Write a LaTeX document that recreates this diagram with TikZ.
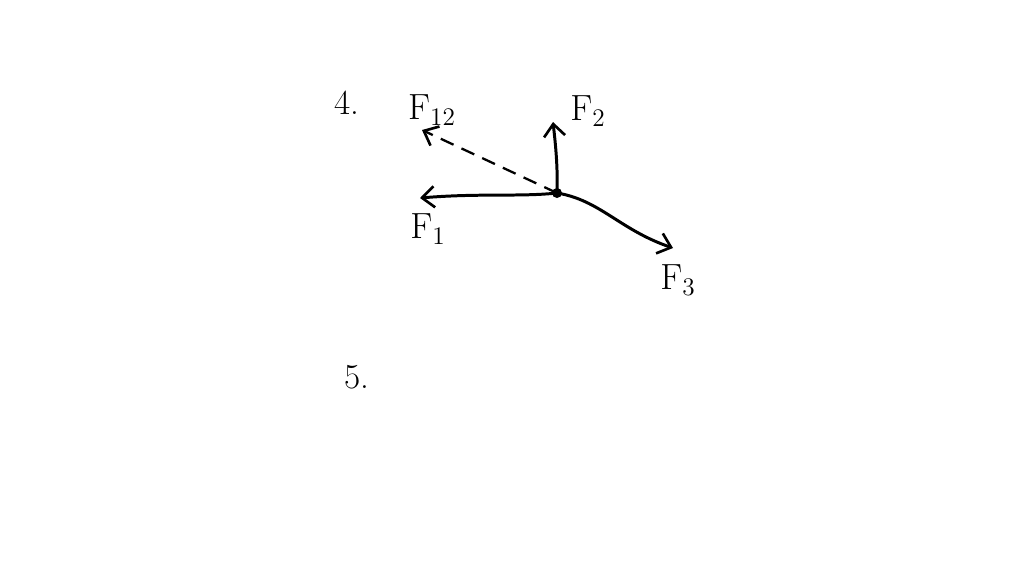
\documentclass[tikz,border=0pt]{standalone}
\usetikzlibrary{arrows.meta}
\begin{document}
\begin{tikzpicture}[x=0.02cm,y=-0.02cm,
  vec/.style={line width=1.7pt,-{Straight Barb[length=7pt,width=12pt,line width=1.5pt]}},
  lbl/.style={font=\fontsize{20}{24}\selectfont,inner sep=0pt}]
\useasboundingbox[fill=white] (0,0) rectangle (1024,576);
\node[lbl] (n4) at (347,103) {4.};
\node[lbl] (n5) at (357,377) {5.};
\fill (557,193) circle (5);
\coordinate (o) at (557,193);
\coordinate (e1) at (420,198);
\coordinate (e2) at (553,122);
\coordinate (e3) at (673,248);
\coordinate (e12) at (422,130);
\draw[vec] (o) .. controls (520,197) and (480,193) .. (e1);
\draw[vec] (o) .. controls (558,165) and (555,140) .. (e2);
\draw[vec] (o) .. controls (600,200) and (620,230) .. (e3);
\draw[vec,dashed,dash pattern=on 8pt off 5pt,line width=1.3pt] (o) -- (e12);
\node[lbl] (f1) at (428,229) {$\mathrm{F}_{1}$};
\node[lbl] (f12) at (432,110) {$\mathrm{F}_{12}$};
\node[lbl] (f2) at (588,111) {$\mathrm{F}_{2}$};
\node[lbl] (f3) at (678,280) {$\mathrm{F}_{3}$};
\end{tikzpicture}
\end{document}
